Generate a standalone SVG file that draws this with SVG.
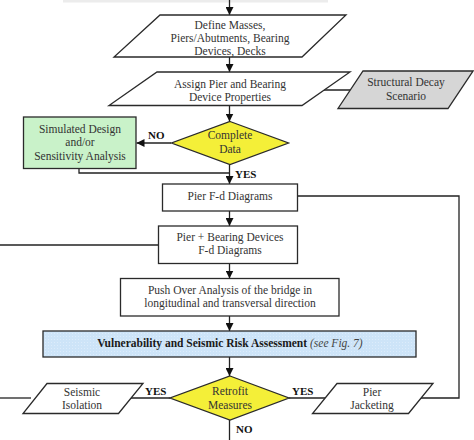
<svg xmlns="http://www.w3.org/2000/svg" width="474" height="440" viewBox="0 0 474 440">
<defs>
<marker id="ah" markerUnits="userSpaceOnUse" markerWidth="8" markerHeight="8" viewBox="0 0 8 8" refX="8" refY="4" orient="auto">
<path d="M0,0 L8,4 L0,8 Z" fill="#111"/>
</marker>
<pattern id="dots" width="3" height="3" patternUnits="userSpaceOnUse">
<rect width="3" height="3" fill="#cde4f8"/>
<rect width="1" height="1" fill="#dcecfb"/>
</pattern>
</defs>
<style>
.sh{stroke:#2a2a2a;stroke-width:1.3;}
.w{fill:#ffffff;}
.t{font-family:"Liberation Serif",serif;font-size:11.5px;fill:#333;text-anchor:middle;}
.lb{font-family:"Liberation Serif",serif;font-size:11px;font-weight:bold;fill:#111;}
.c{fill:none;stroke:#222;stroke-width:1.3;}
.ca{fill:none;stroke:#222;stroke-width:1.3;marker-end:url(#ah);}
</style>
<rect x="63" y="0" width="265" height="2.5" fill="#ececec"/>
<g id="connectors">
<line class="ca" x1="229.5" y1="0" x2="229.5" y2="15"/>
<line class="ca" x1="229.5" y1="57" x2="229.5" y2="72"/>
<line class="ca" x1="229.5" y1="105.5" x2="229.5" y2="121.5"/>
<line class="c" x1="324" y1="90" x2="357" y2="90"/>
<line class="ca" x1="171" y1="143" x2="136.5" y2="143"/>
<polyline class="c" points="79,168.5 79,173 229.5,173"/>
<line class="ca" x1="229.5" y1="164.5" x2="229.5" y2="184"/>
<line class="ca" x1="229.5" y1="211" x2="229.5" y2="226"/>
<line class="ca" x1="229.5" y1="263.5" x2="229.5" y2="278.5"/>
<line class="ca" x1="229.5" y1="316" x2="229.5" y2="331"/>
<line class="ca" x1="229.5" y1="357" x2="229.5" y2="376"/>
<line class="c" x1="229.5" y1="420" x2="229.5" y2="440"/>
<polyline class="c" points="297.5,196 459,196 459,398 421,398"/>
<line class="c" x1="326" y1="398" x2="289" y2="398"/>
<line class="c" x1="131" y1="398" x2="170" y2="398"/>
<line class="c" x1="31" y1="398" x2="0" y2="398"/>
<line class="c" x1="158" y1="245" x2="0" y2="245"/>
<text class="lb" x="148" y="139">NO</text>
<text class="lb" x="235" y="177.5">YES</text>
<text class="lb" x="145" y="395">YES</text>
<text class="lb" x="292" y="395">YES</text>
<text class="lb" x="236" y="433">NO</text>
</g>
<g id="define">
<polygon class="sh w" points="160,15 346,15 302,57 114,57"/>
<text class="t" x="230" y="29">Define Masses,</text>
<text class="t" x="230" y="41.5">Piers/Abutments, Bearing</text>
<text class="t" x="230" y="54.5">Devices, Decks</text>
</g>
<g id="assign">
<polygon class="sh w" points="157,72 350,72 302,105.5 109,105.5"/>
<text class="t" x="230" y="87.5">Assign Pier and Bearing</text>
<text class="t" x="230" y="101">Device Properties</text>
</g>
<g id="decay">
<polygon class="sh" fill="#d6d6d6" points="363,71 473,71 448,108.5 338,108.5"/>
<text class="t" x="406" y="85.5">Structural Decay</text>
<text class="t" x="406" y="99.5">Scenario</text>
</g>
<g id="complete">
<polygon class="sh" fill="#f4ef38" points="230,121.5 288.5,143 230,164.5 171.5,143"/>
<text class="t" x="230" y="139">Complete</text>
<text class="t" x="230" y="152.5">Data</text>
</g>
<g id="simulated">
<rect class="sh" fill="#c9f2c9" x="23.5" y="117" width="112.5" height="51.5"/>
<text class="t" x="80" y="132.5">Simulated Design</text>
<text class="t" x="80" y="146">and/or</text>
<text class="t" x="80" y="159.5">Sensitivity Analysis</text>
</g>
<g id="pierfd">
<rect class="sh w" x="162.5" y="184" width="135" height="27"/>
<text class="t" x="230" y="200">Pier F-d Diagrams</text>
</g>
<g id="pierbearing">
<rect class="sh w" x="158.5" y="226" width="139" height="37.5"/>
<text class="t" x="230" y="241">Pier + Bearing Devices</text>
<text class="t" x="230" y="254">F-d Diagrams</text>
</g>
<g id="pushover">
<rect class="sh w" x="120.5" y="278.5" width="218.5" height="37.5"/>
<text class="t" x="230" y="293.5">Push Over Analysis of the bridge in</text>
<text class="t" x="230" y="307">longitudinal and transversal direction</text>
</g>
<g id="vulnerability">
<rect class="sh" fill="url(#dots)" x="43" y="331" width="373" height="26"/>
<text x="230" y="347" style="font-family:'Liberation Serif',serif;font-size:11.5px;text-anchor:middle;fill:#1a1a1a"><tspan font-weight="bold">Vulnerability and Seismic Risk Assessment</tspan> <tspan font-style="italic" fill="#444">(see Fig. 7)</tspan></text>
</g>
<g id="retrofit">
<polygon class="sh" fill="#f4ef38" points="230,376 289,398 230,420 170,398"/>
<text class="t" x="230" y="395">Retrofit</text>
<text class="t" x="230" y="408.5">Measures</text>
</g>
<g id="seismic">
<polygon class="sh w" points="47,383.5 143,383.5 118.5,413.5 23,413.5"/>
<text class="t" x="82" y="395.5">Seismic</text>
<text class="t" x="82" y="408.5">Isolation</text>
</g>
<g id="jacketing">
<polygon class="sh w" points="337,383.5 433,383.5 408.5,413.5 312.5,413.5"/>
<text class="t" x="372" y="395.5">Pier</text>
<text class="t" x="372" y="408.5">Jacketing</text>
</g>
</svg>
